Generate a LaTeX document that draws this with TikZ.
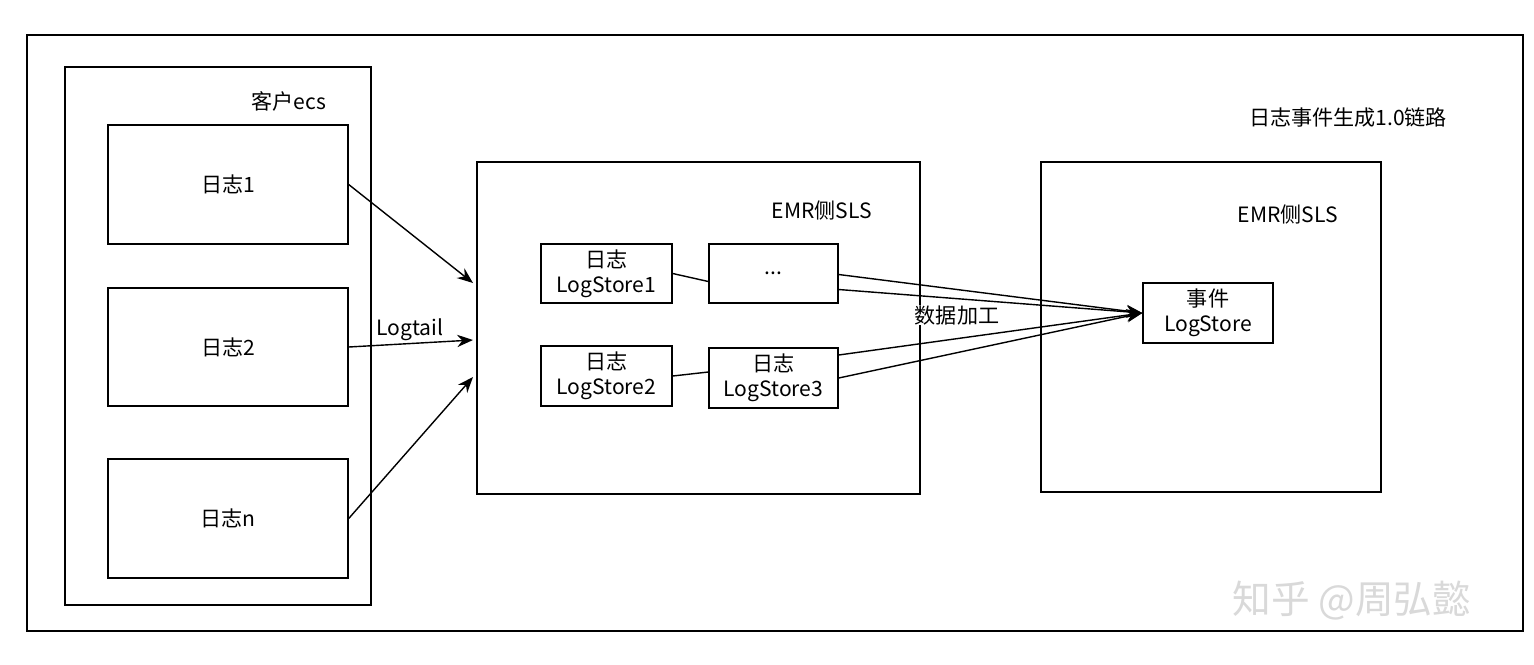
\documentclass[tikz,border=0pt]{standalone}
\usepackage{fontspec}
\setmainfont{Noto Sans CJK SC}
\usetikzlibrary{arrows.meta,calc}
\begin{document}
\begin{tikzpicture}[x=0.02cm,y=-0.02cm,
  lbl/.style={font=\fontsize{12}{14}\selectfont,align=center,inner sep=1pt},
  box/.style={draw,thick,lbl,minimum width=#1*0.02cm},
  arr/.style={-{Stealth[length=9pt,width=7pt]},thick}]
\useasboundingbox (0,0) rectangle (1534,664);
\fill[white] (0,0) rectangle (1534,664);
\draw[thick] (27,35) rectangle (1523,631);
\node[lbl] (title) at (1348,118) {日志事件生成1.0链路};
% client ecs
\draw[thick] (65,67) rectangle (371,605);
\node[lbl] (ecs) at (289,101) {客户ecs};
\node[box=240,minimum height=119*0.02cm] (l1) at (228,184.5) {日志1};
\node[box=240,minimum height=118*0.02cm] (l2) at (228,347) {日志2};
\node[box=240,minimum height=119*0.02cm] (ln) at (228,518.5) {日志n};
% middle SLS
\draw[thick] (477,162) rectangle (920,494);
\node[lbl] (sls1) at (822,210) {EMR侧SLS};
\coordinate (m1) at (473,283);
\coordinate (m2) at (473,340);
\coordinate (m3) at (473,377);
\draw[arr] (l1.east) -- (m1);
\draw[arr] (l2.east) -- (m2);
\draw[arr] (ln.east) -- (m3);
\node[lbl] (logtail) at (410,330) {Logtail};
\node[box=131,minimum height=59*0.02cm] (ls1) at (606.5,273.5) {日志\\LogStore1};
\node[box=129,minimum height=59*0.02cm] (dots) at (773.5,273.5) {...};
\node[box=131,minimum height=60*0.02cm] (ls2) at (606.5,376) {日志\\LogStore2};
\node[box=129,minimum height=60*0.02cm] (ls3) at (773.5,378) {日志\\LogStore3};
\draw[thick] (ls1.east) -- ($(dots.west)+(0,8)$);
\draw[thick] (ls2.east) -- ($(ls3.west)+(0,-6)$);
% right SLS
\draw[thick] (1041,162) rectangle (1381,492);
\node[lbl] (sls2) at (1288,214) {EMR侧SLS};
\node[box=130,minimum height=60*0.02cm] (ev) at (1208,313) {事件\\LogStore};
\draw[arr] ($(dots.east)+(0,1)$) -- (ev.west);
\draw[arr] ($(dots.east)+(0,16)$) -- (ev.west);
\draw[arr] ($(ls3.east)+(0,-23)$) -- (ev.west);
\draw[arr] (ls3.east) -- (ev.west);
\node[lbl,fill=white,inner sep=0pt] (proc) at (957,315) {数据加工};
\node[font=\fontsize{22}{24}\selectfont,text=gray!30] (wm) at (1352,601) {知乎 @周弘懿};
\end{tikzpicture}
\end{document}
